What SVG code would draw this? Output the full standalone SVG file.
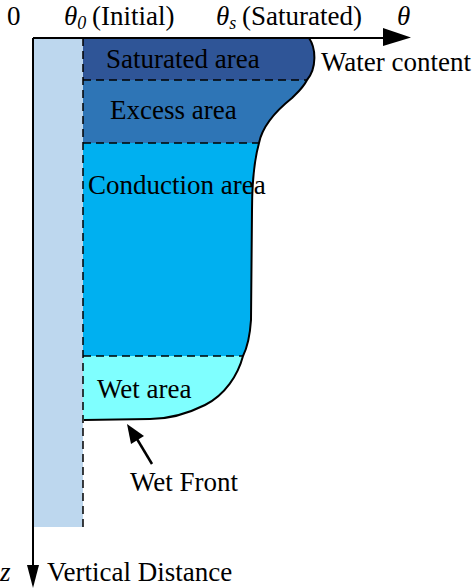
<svg xmlns="http://www.w3.org/2000/svg" width="474" height="588" viewBox="0 0 474 588">
<style>
text{font-family:"Liberation Serif","Times New Roman",serif;font-size:27px;fill:#000}
.it{font-style:italic}
.dash{stroke:#000;stroke-width:1.5;stroke-dasharray:8,5;fill:none}
.edge{stroke:#000;stroke-width:2;fill:none}
</style>
<rect width="474" height="588" fill="#fff"/>
<g id="column">
<rect x="33" y="38" width="50" height="489" fill="#BDD7EE"/>
</g>
<g id="saturated">
<path d="M83,38 L309,38 C316,48 317,68 307,80 L83,80 Z" fill="#2F5597"/>
<text x="106" y="68">Saturated area</text>
</g>
<g id="excess">
<path d="M83,80 L307,80 C303,88 298,92 292,98 C272,114 262,128 259,143 L83,143 Z" fill="#2E75B6"/>
<text x="110" y="119">Excess area</text>
</g>
<g id="conduction">
<path d="M83,143 L259,143 C253,165 252,190 252,210 L251,320 C250,335 247,348 243,356 L83,356 Z" fill="#00B0F0"/>
<text x="88" y="194">Conduction area</text>
</g>
<g id="wet">
<path d="M83,356 L243,356 C238,375 225,395 205,405 C185,415 165,419 150,419 L83,420 Z" fill="#7FFFFF"/>
<text x="97" y="398">Wet area</text>
</g>
<g id="connectors">
<path class="edge" d="M309,38 C316,48 317,68 307,80 C303,88 298,92 292,98 C272,114 262,128 259,143 C253,165 252,190 252,210 L251,320 C250,335 247,348 243,356 C238,375 225,395 205,405 C185,415 165,419 150,419 L84,420"/>
<line class="dash" x1="83" y1="38" x2="83" y2="527"/>
<line class="dash" x1="83" y1="80" x2="307" y2="80"/>
<line class="dash" x1="83" y1="143" x2="259" y2="143"/>
<line class="dash" x1="83" y1="356" x2="243" y2="356"/>
<line x1="33" y1="38" x2="392" y2="38" stroke="#000" stroke-width="2"/>
<path d="M383,28 L411,37.5 L383,46 Z" fill="#000"/>
<line x1="33" y1="38" x2="33" y2="570" stroke="#000" stroke-width="2"/>
<path d="M27,565 L33,588 L39,565 Z" fill="#000"/>
<line x1="152" y1="464" x2="134" y2="434" stroke="#000" stroke-width="2.5"/>
<path d="M127,424 L144,436 L131,444 Z" fill="#000"/>
</g>
<g id="labels">
<text x="7" y="25">0</text>
<text x="64" y="25" class="it">θ<tspan font-size="18" dy="4">0</tspan></text>
<text x="92" y="25">(Initial)</text>
<text x="216" y="25" class="it">θ<tspan font-size="18" dy="4">s</tspan></text>
<text x="242" y="25">(Saturated)</text>
<text x="397" y="25" class="it">θ</text>
<text x="321" y="71">Water content</text>
<text x="130" y="491">Wet Front</text>
<text x="0" y="581" class="it">z</text>
<text x="47" y="581">Vertical Distance</text>
</g>
</svg>
